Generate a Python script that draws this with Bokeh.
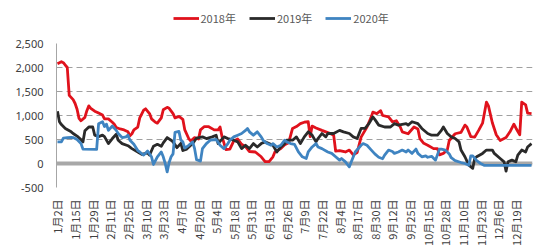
import math
from bokeh.plotting import figure
from bokeh.layouts import column
from bokeh.models import (Range1d, FixedTicker, NumeralTickFormatter, Span,
                          Legend, LegendItem)
from bokeh.embed import file_html
from bokeh.resources import INLINE

# category axis labels (every 9th trading day)
tick_labels = ["1月2日", "1月15日", "1月29日", "2月11日", "2月25日", "3月10日",
               "3月23日", "4月7日", "4月20日", "5月4日", "5月18日", "5月31日",
               "6月13日", "6月26日", "7月9日", "7月22日", "8月4日", "8月17日",
               "8月30日", "9月12日", "9月25日", "10月15日", "10月28日",
               "11月10日", "11月23日", "12月6日", "12月19日"]
tick_step = 9
n_days = 243

y_ticks = [-500, 0, 500, 1000, 1500, 2000, 2500]

# 2018
red_idx = [0, 2, 3, 4, 5, 6, 8, 9, 10, 11, 12, 14, 15, 16, 17, 19, 21, 23, 24, 26,
           28, 29, 30, 32, 34, 36, 37, 38, 39, 41, 42, 44, 45, 47, 48, 50, 51, 53,
           54, 56, 57, 59, 60, 62, 64, 65, 67, 68, 70, 72, 73, 75, 77, 80, 82, 83,
           84, 86, 88, 90, 92, 94, 96, 98, 101, 104, 106, 108, 110, 111, 114, 116,
           118, 120, 122, 124, 126, 128, 129, 130, 132, 135, 137, 139, 141, 142,
           144, 147, 149, 151, 153, 155, 158, 160, 161, 163, 165, 166, 169, 171,
           173, 175, 176, 179, 182, 184, 185, 187, 189, 192, 194, 195, 197, 199,
           200, 203, 206, 208, 209, 211, 213, 215, 217, 219, 220, 222, 224, 226,
           229, 231, 233, 234, 236, 237, 239, 240, 242]
red_val = [2080, 2120, 2100, 2050, 2000, 1420, 1330, 1250, 1130, 940, 890, 960, 1100,
           1200, 1150, 1090, 1050, 1010, 930, 930, 860, 820, 750, 720, 700, 660, 580,
           620, 700, 760, 950, 1110, 1140, 1040, 930, 860, 840, 950, 1120, 1170, 1150,
           1040, 950, 980, 920, 700, 520, 470, 540, 510, 700, 770, 770, 700, 700, 760,
           560, 290, 300, 470, 510, 400, 350, 250, 240, 140, 40, 40, 140, 240, 310,
           390, 430, 730, 770, 830, 860, 870, 560, 780, 740, 690, 660, 630, 590, 260,
           270, 240, 280, 180, 230, 550, 760, 950, 1070, 1040, 1100, 1000, 970, 870,
           890, 760, 660, 620, 760, 720, 520, 420, 380, 310, 310, 180, 210, 280, 480,
           620, 650, 800, 760, 560, 550, 690, 840, 1280, 1200, 850, 600, 480, 540,
           660, 820, 740, 600, 1280, 1220, 1050, 1040]

# 2019
black_idx = [0, 1, 2, 4, 7, 8, 10, 12, 13, 14, 16, 18, 19, 21, 23, 24, 26, 28, 30,
             31, 33, 36, 38, 41, 43, 46, 47, 49, 51, 53, 54, 56, 58, 59, 61, 63, 64,
             66, 69, 71, 74, 76, 79, 81, 82, 85, 87, 90, 92, 94, 96, 98, 100, 102,
             104, 106, 108, 110, 112, 114, 116, 117, 120, 122, 124, 126, 128, 130,
             132, 133, 135, 137, 138, 141, 144, 146, 149, 151, 153, 155, 157, 159,
             161, 162, 164, 167, 170, 172, 174, 178, 179, 181, 184, 186, 189, 191,
             194, 196, 197, 199, 201, 203, 205, 206, 208, 210, 212, 213, 214, 217,
             219, 222, 223, 226, 228, 229, 230, 232, 234, 235, 237, 239, 240, 242]
black_val = [1090, 870, 810, 730, 660, 625, 570, 500, 450, 680, 760, 760, 590, 560,
             590, 560, 415, 520, 610, 485, 415, 370, 310, 240, 190, 220, 175, 360,
             400, 360, 430, 540, 485, 450, 330, 420, 270, 300, 415, 530, 555, 520,
             555, 590, 415, 555, 520, 485, 450, 310, 380, 310, 415, 345, 415, 450,
             415, 380, 240, 345, 415, 485, 485, 555, 415, 555, 660, 590, 450, 520,
             625, 555, 625, 625, 690, 660, 625, 555, 520, 730, 730, 830, 970, 920,
             800, 760, 760, 830, 800, 830, 800, 870, 830, 730, 625, 590, 590, 690,
             760, 625, 555, 520, 450, 280, 140, -35, -100, 105, 140, 210, 280, 280,
             210, 105, 35, -160, 35, 70, 35, 175, 280, 240, 345, 415]

# 2020
blue_idx = [0, 2, 3, 5, 7, 8, 10, 12, 13, 20, 21, 23, 24, 25, 26, 28, 30, 31, 33,
            35, 36, 37, 39, 41, 42, 44, 46, 48, 49, 51, 53, 54, 55, 56, 57, 58, 59,
            60, 62, 63, 64, 65, 67, 69, 70, 71, 73, 74, 76, 78, 81, 83, 85, 87, 88,
            90, 92, 94, 96, 97, 98, 100, 102, 104, 105, 107, 109, 110, 112, 114,
            116, 117, 119, 121, 123, 125, 127, 128, 130, 132, 133, 135, 138, 140,
            142, 144, 145, 147, 149, 150, 152, 155, 156, 158, 160, 162, 164, 166,
            167, 169, 171, 172, 174, 176, 178, 179, 181, 183, 184, 186, 188, 189,
            191, 193, 195, 196, 198, 200, 201, 203, 206, 208, 210, 211, 212, 214,
            216, 218, 242]
blue_val = [450, 450, 530, 540, 545, 540, 500, 415, 300, 295, 830, 870, 770, 820,
            690, 780, 690, 625, 540, 555, 590, 485, 400, 270, 240, 175, 260, 140,
            -20, 140, 240, 140, 0, -175, 20, 140, 200, 650, 670, 485, 450, 320, 380,
            450, 310, 80, 50, 310, 415, 485, 500, 380, 310, 415, 485, 555, 590, 625,
            690, 730, 660, 590, 660, 555, 485, 415, 380, 415, 345, 380, 485, 450,
            415, 400, 240, 140, 105, 240, 345, 415, 345, 310, 240, 210, 140, 70, 105,
            35, -70, 35, 240, 380, 415, 380, 290, 200, 130, 100, 175, 280, 250, 210,
            240, 280, 240, 280, 210, 300, 210, 140, 160, 130, 150, 70, 300, 300, 280,
            200, 120, 60, 20, 0, -35, 160, 160, 60, 0, -40, -40]

series = [("2018年", red_idx, red_val, "#E0121C"),
          ("2019年", black_idx, black_val, "#2A2A2A"),
          ("2020年", blue_idx, blue_val, "#3F84C1")]

LINE_W = 2.8

# ---- legend strip on top (series drawn off-range; only the legend shows) ----
lg = figure(width=550, height=35, output_backend="svg", toolbar_location=None,
            x_range=Range1d(-0.5, n_days - 0.5), y_range=Range1d(5000, 6000),
            x_axis_location=None, y_axis_location=None,
            min_border_left=0, min_border_right=0, min_border_top=0,
            min_border_bottom=0)
lg.grid.visible = False
lg.outline_line_color = None
items = []
for name, xs, ys, col in series:
    r = lg.line(xs, ys, line_color=col, line_width=LINE_W)
    items.append(LegendItem(label=name, renderers=[r]))
legend = Legend(items=items, orientation="horizontal", location=(116.5, 9.3),
                glyph_width=26, glyph_height=16, label_height=16,
                label_standoff=2, spacing=13, padding=0, margin=0,
                background_fill_alpha=0, border_line_color=None,
                label_text_font="Noto Sans CJK SC", label_text_font_size="11px",
                label_text_color="#595959")
lg.add_layout(legend, "center")

# ---- main chart ----
p = figure(width=550, height=216, output_backend="svg", toolbar_location=None,
           x_range=Range1d(-0.5, n_days - 0.5), y_range=Range1d(-500, 2500),
           min_border_left=56, min_border_right=18, min_border_top=8,
           min_border_bottom=64)
p.outline_line_color = None
p.background_fill_color = "white"
p.border_fill_color = "white"

p.xgrid.grid_line_color = None
p.ygrid.grid_line_color = "#A0A0A0"
p.ygrid.grid_line_dash = "6 4"
p.ygrid.grid_line_width = 1
p.ygrid.ticker = FixedTicker(ticks=y_ticks)

zero = Span(location=0, dimension="width", line_color="#A8A8A8", line_width=4,
            level="underlay")
p.add_layout(zero)

for name, xs, ys, col in series:
    p.line(xs, ys, line_color=col, line_width=LINE_W, line_join="round")

# y axis
p.yaxis.ticker = FixedTicker(ticks=y_ticks)
p.yaxis.formatter = NumeralTickFormatter(format="0,0")
p.yaxis.axis_line_color = "#A6A6A6"
p.yaxis.major_tick_line_color = None
p.yaxis.minor_tick_line_color = None
p.yaxis.major_label_standoff = 7
p.yaxis.major_label_text_font = "Noto Sans"
p.yaxis.major_label_text_font_size = "11px"
p.yaxis.major_label_text_color = "#404040"

# x axis
tick_pos = [i * tick_step for i in range(len(tick_labels))]
p.xaxis.ticker = FixedTicker(ticks=tick_pos)
p.xaxis.major_label_overrides = {t: lab for t, lab in zip(tick_pos, tick_labels)}
p.xaxis.major_label_orientation = math.pi / 2
p.xaxis.axis_line_color = None
p.xaxis.major_tick_line_color = None
p.xaxis.minor_tick_line_color = None
p.xaxis.major_label_standoff = 6
p.xaxis.major_label_text_font = "Noto Sans CJK SC"
p.xaxis.major_label_text_font_size = "11px"
p.xaxis.major_label_text_color = "#404040"

layout = column(lg, p, spacing=0)
open("out.html", "w").write(file_html(layout, INLINE))
